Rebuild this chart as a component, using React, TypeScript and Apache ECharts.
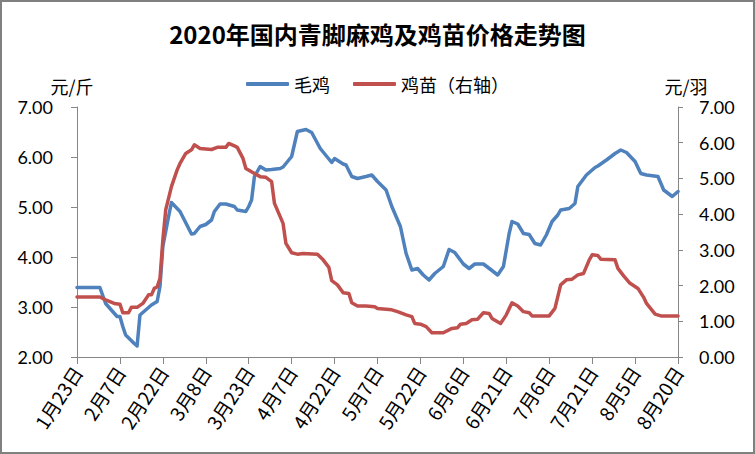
import React, { useEffect, useRef } from "react";
import * as echarts from "echarts";

const chartTitle = "2020年国内青脚麻鸡及鸡苗价格走势图";
const seriesNames = ["毛鸡", "鸡苗（右轴）"];
const tickLabels = ["1月23日", "2月7日", "2月22日", "3月8日", "3月23日", "4月7日", "4月22日", "5月7日", "5月22日", "6月6日", "6月21日", "7月6日", "7月21日", "8月5日", "8月20日"];

// day offsets counted from 1月23日
const maojiDays = [0, 8, 10, 14, 15, 16, 17, 20, 21, 22, 26, 28, 29, 30, 32, 33, 35, 36, 40, 41, 43, 45, 47, 48, 50, 52, 55, 56, 59, 60, 61, 62, 64, 66, 68, 71, 72, 75, 77, 80, 82, 85, 89, 90, 93, 94, 96, 98, 101, 103, 105, 108, 110, 113, 115, 117, 119, 121, 123, 125, 128, 130, 132, 135, 137, 139, 142, 145, 147, 149, 151, 152, 154, 156, 158, 160, 162, 164, 166, 168, 169, 172, 174, 175, 178, 181, 182, 185, 188, 190, 192, 195, 197, 199, 203, 205, 208, 210];
const maojiPrice = [3.39, 3.39, 3.07, 2.81, 2.81, 2.61, 2.44, 2.27, 2.22, 2.84, 3.04, 3.11, 3.41, 4.21, 4.81, 5.09, 4.97, 4.91, 4.46, 4.47, 4.61, 4.65, 4.74, 4.91, 5.06, 5.06, 5.01, 4.94, 4.91, 5.01, 5.14, 5.61, 5.81, 5.74, 5.75, 5.77, 5.8, 6.01, 6.51, 6.55, 6.49, 6.17, 5.89, 5.97, 5.86, 5.84, 5.61, 5.57, 5.61, 5.64, 5.51, 5.34, 5.01, 4.61, 4.07, 3.74, 3.77, 3.64, 3.54, 3.67, 3.81, 4.15, 4.09, 3.86, 3.77, 3.86, 3.86, 3.73, 3.64, 3.81, 4.47, 4.71, 4.66, 4.47, 4.45, 4.27, 4.24, 4.44, 4.71, 4.84, 4.94, 4.97, 5.07, 5.41, 5.64, 5.79, 5.82, 5.94, 6.07, 6.14, 6.09, 5.91, 5.67, 5.64, 5.61, 5.34, 5.21, 5.31];

const jimiaoDays = [0, 8, 10, 13, 15, 16, 18, 19, 21, 23, 25, 26, 27, 28, 29, 30, 31, 33, 35, 36, 38, 40, 41, 43, 47, 49, 52, 53, 55, 56, 58, 59, 62, 64, 66, 68, 69, 72, 73, 75, 77, 79, 84, 86, 88, 89, 91, 93, 95, 96, 98, 101, 104, 105, 110, 112, 115, 117, 118, 120, 122, 124, 128, 131, 133, 134, 136, 138, 140, 142, 144, 145, 148, 150, 152, 154, 156, 158, 159, 165, 167, 169, 171, 173, 175, 177, 178, 179, 180, 182, 183, 188, 189, 191, 193, 196, 198, 199, 202, 204, 210];
const jimiaoPrice = [1.68, 1.68, 1.6, 1.5, 1.48, 1.24, 1.24, 1.39, 1.39, 1.5, 1.74, 1.74, 1.92, 1.96, 2.2, 3.28, 4.12, 4.77, 5.24, 5.42, 5.7, 5.8, 5.94, 5.84, 5.81, 5.87, 5.87, 5.98, 5.91, 5.87, 5.56, 5.28, 5.14, 5.05, 5.03, 4.91, 4.3, 3.74, 3.18, 2.92, 2.88, 2.9, 2.88, 2.72, 2.51, 2.14, 2.02, 1.8, 1.78, 1.52, 1.43, 1.43, 1.41, 1.36, 1.32, 1.27, 1.18, 1.13, 0.94, 0.92, 0.85, 0.68, 0.68, 0.8, 0.82, 0.92, 0.94, 1.04, 1.06, 1.24, 1.22, 1.08, 0.94, 1.18, 1.52, 1.43, 1.27, 1.24, 1.15, 1.15, 1.36, 2.02, 2.16, 2.18, 2.3, 2.34, 2.53, 2.72, 2.86, 2.84, 2.74, 2.72, 2.48, 2.27, 2.08, 1.92, 1.67, 1.5, 1.2, 1.15, 1.15];

const CJK = "'Noto Sans CJK SC', sans-serif";
const NUM = "Lato, 'Noto Sans CJK SC', sans-serif";

export default function App() {
  const ref = useRef<HTMLDivElement>(null);
  useEffect(() => {
    document.body.style.margin = "0";
    const chart = echarts.init(ref.current!, null, { renderer: "svg" });
    const axisLine = { show: true, lineStyle: { color: "#868686", width: 1 } };
    chart.setOption({
      animation: false,
      backgroundColor: "#ffffff",
      title: {
        text: chartTitle,
        left: "center",
        top: 16,
        textStyle: { fontFamily: CJK, fontSize: 24, fontWeight: "bold", color: "#000" },
      },
      legend: {
        top: 70,
        left: "center",
        itemWidth: 43,
        itemHeight: 4,
        itemGap: 23,
        icon: "roundRect",
        textStyle: { fontFamily: CJK, fontSize: 18, color: "#000" },
        data: seriesNames,
      },
      grid: { left: 77, right: 77, top: 107, bottom: 97, containLabel: false },
      xAxis: {
        type: "value",
        min: 0,
        max: 210,
        interval: 15,
        axisLine,
        axisTick: { show: true, length: 7, lineStyle: { color: "#868686" } },
        splitLine: { show: false },
        axisLabel: {
          rotate: 57,
          margin: 11,
          fontFamily: CJK,
          fontSize: 19,
          color: "#000",
          formatter: (v: number) => tickLabels[Math.round(v / 15)] ?? "",
        },
      },
      yAxis: [
        {
          type: "value",
          min: 2,
          max: 7,
          interval: 1,
          name: "元/斤",
          nameLocation: "end",
          nameGap: 12,
          nameTextStyle: { fontFamily: CJK, fontSize: 18, color: "#000", align: "center", padding: [0, 0, 0, -10] },
          axisLine,
          axisTick: { show: true, length: 6, lineStyle: { color: "#868686" } },
          splitLine: { show: false },
          axisLabel: { margin: 24, fontFamily: NUM, fontSize: 18, color: "#000", formatter: (v: number) => v.toFixed(2) },
        },
        {
          type: "value",
          min: 0,
          max: 7,
          interval: 1,
          name: "元/羽",
          nameLocation: "end",
          nameGap: 12,
          nameTextStyle: { fontFamily: CJK, fontSize: 18, color: "#000", align: "center", padding: [0, 0, 0, 16] },
          axisLine,
          axisTick: { show: true, length: 5, lineStyle: { color: "#868686" } },
          splitLine: { show: false },
          axisLabel: { margin: 21, fontFamily: NUM, fontSize: 18, color: "#000", formatter: (v: number) => v.toFixed(2) },
        },
      ],
      series: [
        {
          name: seriesNames[0],
          type: "line",
          yAxisIndex: 0,
          symbol: "none",
          smooth: false,
          color: "#4F81BD",
          lineStyle: { width: 3.5, color: "#4F81BD", cap: "round", join: "round" },
          data: maojiDays.map((d, i) => [d, maojiPrice[i]]),
        },
        {
          name: seriesNames[1],
          type: "line",
          yAxisIndex: 1,
          symbol: "none",
          smooth: false,
          color: "#C0504D",
          lineStyle: { width: 3.5, color: "#C0504D", cap: "round", join: "round" },
          data: jimiaoDays.map((d, i) => [d, jimiaoPrice[i]]),
        },
      ],
      graphic: [
        {
          type: "rect",
          silent: true,
          shape: { x: 1, y: 1, width: 753, height: 452 },
          style: { fill: "none", stroke: "#808080", lineWidth: 2 },
        },
      ],
    });
    return () => chart.dispose();
  }, []);
  return <div ref={ref} style={{ width: 755, height: 454 }} />;
}
